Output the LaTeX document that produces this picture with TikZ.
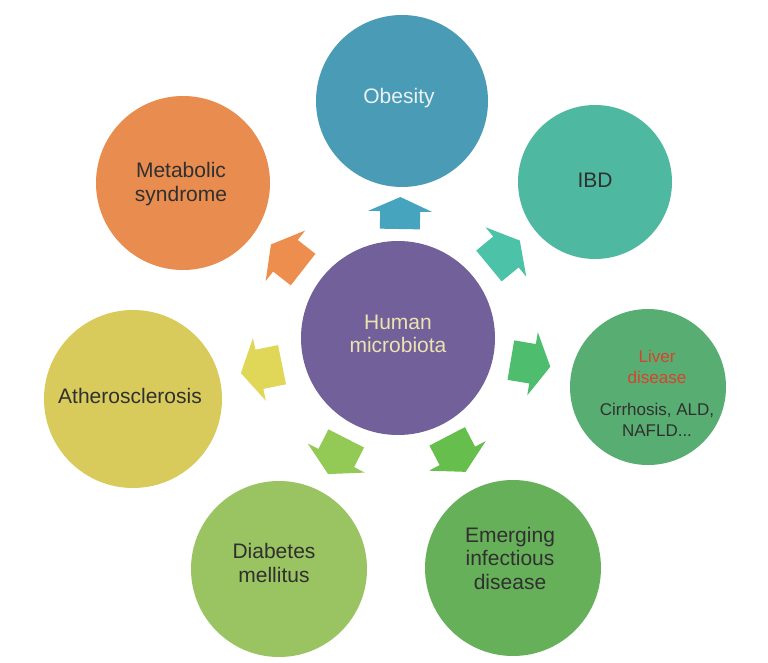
\documentclass[tikz,border=0pt]{standalone}
\usepackage{fontspec}
\setmainfont{Liberation Sans}
\usetikzlibrary{calc}
\definecolor{cHub}{HTML}{72609A}
\definecolor{cOb}{HTML}{4A9BB5}
\definecolor{cIbd}{HTML}{4FB8A0}
\definecolor{cLiv}{HTML}{58AE72}
\definecolor{cEm}{HTML}{67B05A}
\definecolor{cDia}{HTML}{9AC361}
\definecolor{cAth}{HTML}{D8CB5C}
\definecolor{cMet}{HTML}{E98C4F}
\definecolor{aOb}{HTML}{47A4BE}
\definecolor{aIbd}{HTML}{4CC3A9}
\definecolor{aLiv}{HTML}{4EBE6E}
\definecolor{aEm}{HTML}{66BE4C}
\definecolor{aDia}{HTML}{93C955}
\definecolor{aAth}{HTML}{E0D658}
\definecolor{aMet}{HTML}{EE8E4E}
\definecolor{tDark}{HTML}{303030}
\definecolor{tLight}{HTML}{EAF2F5}
\definecolor{tHub}{HTML}{EDE3B0}
\definecolor{tRed}{HTML}{D8422E}
% #1 target node, #2 angle, #3 colour, #4 start distance, #5 length scale
\newcommand\blockarr[5]{%
  \begin{scope}[shift={($(hub)!#4pt!(#1)$)}, rotate=#2]
    \fill[#3, xscale=#5] (0,-20) -- (22,-20) -- (22,-32) -- (40,0) -- (22,32) -- (22,20) -- (0,20) -- cycle;
  \end{scope}}
\begin{document}
\begin{tikzpicture}[x=1pt,y=-1pt,
  disc/.style={circle, draw=none, inner sep=0pt},
  lbl/.style={align=center, font=\fontsize{21}{23.5}\selectfont, text=tDark},
  small/.style={align=center, font=\fontsize{17}{21}\selectfont}]
\useasboundingbox[fill=white] (0,0) rectangle (768,663);
% circles
\node[disc, fill=cHub, minimum size=194pt] (hub) at (398,338) {};
\node[disc, fill=cOb,  minimum size=172pt] (ob)  at (402,101) {};
\node[disc, fill=cIbd, minimum size=154pt] (ibd) at (595,182) {};
\node[disc, fill=cLiv, minimum size=156pt] (liv) at (648,387) {};
\node[disc, fill=cEm,  minimum size=176pt] (em)  at (513,568) {};
\node[disc, fill=cDia, minimum size=176pt] (dia) at (279,569) {};
\node[disc, fill=cAth, minimum size=178pt] (ath) at (133,399) {};
\node[disc, fill=cMet, minimum size=174pt] (met) at (183,183) {};
% texts
\node[lbl, text=tHub] (hubt) at (398,334) {Human\\microbiota};
\node[lbl, text=tLight] (obt) at (399,98) {Obesity};
\node[lbl] (ibdt) at (595,180) {IBD};
\node[lbl] (mett) at (181,184) {Metabolic\\syndrome};
\node[lbl] (atht) at (130,396) {Atherosclerosis};
\node[lbl] (diat) at (274,563) {Diabetes\\mellitus};
\node[lbl] (emt) at (510,558) {Emerging\\infectious\\disease};
\node[small, text=tRed] (livt) at (657,367) {Liver\\disease};
\node[small, text=tDark] (livs) at (657,420) {Cirrhosis, ALD,\\NAFLD...};
% block arrows from the hub
\blockarr{ob}{89}{aOb}{109}{0.8}
\blockarr{ibd}{39.5}{aIbd}{116}{1}
\blockarr{liv}{-9.5}{aLiv}{115}{1}
\blockarr{em}{-62.5}{aEm}{110}{1}
\blockarr{dia}{-117}{aDia}{113}{1}
\blockarr{ath}{191.5}{aAth}{119}{1.05}
\blockarr{met}{142}{aMet}{117}{1.02}
\end{tikzpicture}
\end{document}
